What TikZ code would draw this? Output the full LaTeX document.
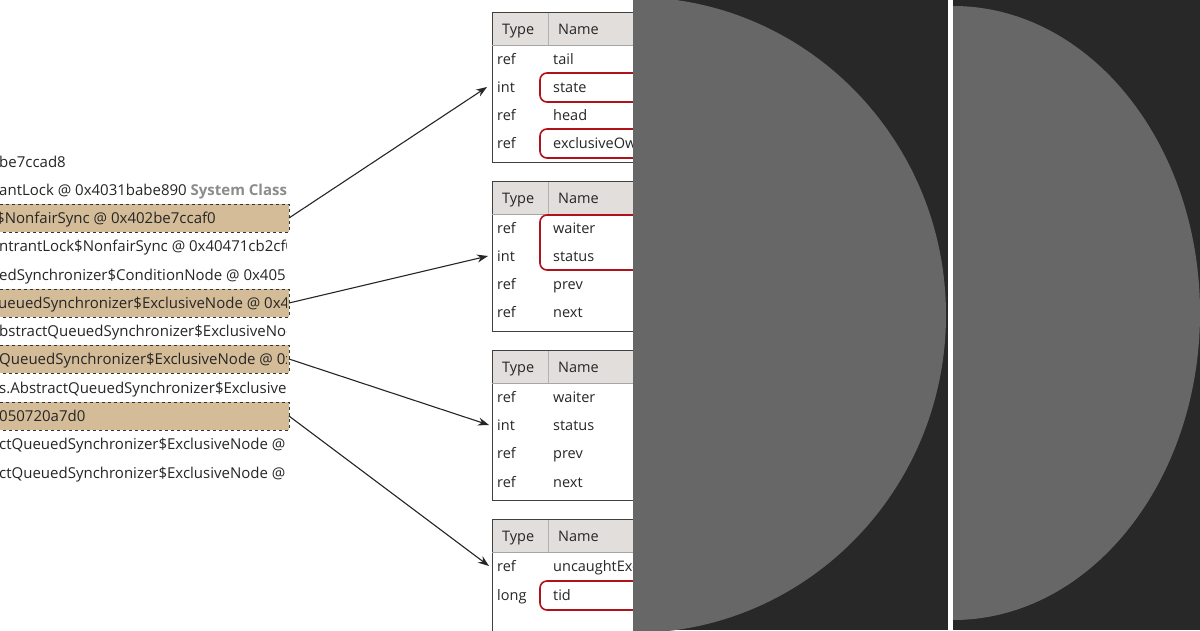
\documentclass[tikz,border=0pt]{standalone}
\usepackage{fontspec}
\setmainfont{Open Sans}
\usetikzlibrary{arrows.meta}
\definecolor{tan}{HTML}{D5BC98}
\definecolor{hdr}{HTML}{E2DEDC}
\definecolor{dk}{HTML}{282828}
\definecolor{gr}{HTML}{676767}
\definecolor{redb}{HTML}{B0121C}
\tikzset{
 x=1pt,y=-1pt,
 row/.style={anchor=base west,inner sep=0pt,font=\fontsize{15}{17}\selectfont,text=black!85},
 cell/.style={anchor=base west,inner sep=0pt,font=\fontsize{14.5}{16}\selectfont,text=black!85},
 hl/.style={fill=tan},
 hlb/.style={draw=black!80,dashed,line width=0.9pt},
 tbl/.style={draw=black!75,line width=1pt},
 redbox/.style={draw=redb,line width=1.6pt,rounded corners=7pt},
 ptr/.style={draw=black!85,line width=1.1pt,-{Stealth[length=11pt,width=8pt,open,fill=black!85]}}
}
\begin{document}
\begin{tikzpicture}
\useasboundingbox (0,0) rectangle (1200,630);
\fill[white] (0,0) rectangle (1200,630);
% left list
\begin{scope}
\clip (0,0) rectangle (289,630);
\foreach \a in {204,289,345,402}{
 \path[hl] (-5,\a) rectangle (289,\a+28);
}
\end{scope}
\begin{scope}
\clip (0,0) rectangle (286,630);
\node[row] (r1) at (-1,167) {be7ccad8};
\node[row] (r2) at (-1,195) {antLock @ 0x4031babe890 {\bfseries\color{black!45}System Class}};
\node[row] (r3) at (-4,223) {\$NonfairSync @ 0x402be7ccaf0};
\node[row] (r4) at (-1,251) {ntrantLock\$NonfairSync @ 0x40471cb2cf0};
\node[row] (r5) at (-1,280) {edSynchronizer\$ConditionNode @ 0x4051a2c};
\node[row] (r6) at (-2,308) {ueuedSynchronizer\$ExclusiveNode @ 0x4051b3};
\node[row] (r7) at (-1,336) {bstractQueuedSynchronizer\$ExclusiveNode};
\node[row] (r8) at (-1,364) {QueuedSynchronizer\$ExclusiveNode @ 0x4051};
\node[row] (r9) at (-1,393) {s.AbstractQueuedSynchronizer\$ExclusiveNode};
\node[row] (r10) at (-1,421) {050720a7d0};
\node[row] (r11) at (-1,449) {ctQueuedSynchronizer\$ExclusiveNode @ 0x40};
\node[row] (r12) at (-1,478) {ctQueuedSynchronizer\$ExclusiveNode @ 0x40};
\end{scope}
\begin{scope}
\clip (0,0) rectangle (292,630);
\foreach \a in {204,289,345,402}{
 \draw[hlb] (-5,\a) rectangle (289,\a+28);
}
\end{scope}
\coordinate (s1) at (289,218);
\coordinate (s2) at (289,303);
\coordinate (s3) at (289,359);
\coordinate (s4) at (289,416);
% tables
\foreach \t in {12,181,350,519}{
 \fill[hdr] (492,\t) rectangle (640,\t+33);
 \draw[black!30] (548,\t) -- (548,\t+33);
}
\draw[tbl] (492,12) rectangle (640,162);
\draw[tbl] (492,181) rectangle (640,331);
\draw[tbl] (492,350) rectangle (640,500);
\draw[tbl] (492,519) rectangle (640,640);
\foreach \t in {12,181,350,519}{
 \draw[black!35] (492,\t+33) -- (640,\t+33);
 \node[cell] at (502,\t+22) {Type};
 \node[cell] at (558,\t+22) {Name};
}
\node[cell] at (497,64) {ref}; \node[cell] at (553,64) {tail};
\node[cell] at (497,92) {int}; \node[cell] at (553,92) {state};
\node[cell] at (497,120) {ref}; \node[cell] at (553,120) {head};
\node[cell] at (497,148) {ref}; \node[cell] at (553,148) {exclusiveOwnerThread};
\node[cell] at (497,233) {ref}; \node[cell] at (553,233) {waiter};
\node[cell] at (497,261) {int}; \node[cell] at (553,261) {status};
\node[cell] at (497,289) {ref}; \node[cell] at (553,289) {prev};
\node[cell] at (497,317) {ref}; \node[cell] at (553,317) {next};
\node[cell] at (497,402) {ref}; \node[cell] at (553,402) {waiter};
\node[cell] at (497,430) {int}; \node[cell] at (553,430) {status};
\node[cell] at (497,458) {ref}; \node[cell] at (553,458) {prev};
\node[cell] at (497,487) {ref}; \node[cell] at (553,487) {next};
\node[cell] at (497,571) {ref}; \node[cell] at (553,571) {uncaughtExceptionHandler};
\node[cell] at (497,600) {long}; \node[cell] at (553,600) {tid};
\draw[redbox] (660,73) -| (540,102) -- (660,102);
\draw[redbox] (660,129) -| (540,158) -- (660,158);
\draw[redbox] (660,215) -| (540,270) -- (660,270);
\draw[redbox] (660,581) -| (540,610) -- (660,610);
\coordinate (d1) at (487,87);
\coordinate (d2) at (488,256);
\coordinate (d3) at (489,425);
\coordinate (d4) at (489,566);
\draw[ptr] (s1) -- (d1);
\draw[ptr] (s2) -- (d2);
\draw[ptr] (s3) -- (d3);
\draw[ptr] (s4) -- (d4);
% right panels
\fill[dk] (633,0) rectangle (948,630);
\begin{scope}
\clip (633,0) rectangle (948,630);
\fill[gr] (633,315) ellipse[x radius=313, y radius=318];
\end{scope}
\fill[dk] (953,0) rectangle (1200,630);
\begin{scope}
\clip (953,0) rectangle (1200,630);
\fill[gr] (953,313) ellipse[x radius=247, y radius=307];
\end{scope}
\end{tikzpicture}
\end{document}
